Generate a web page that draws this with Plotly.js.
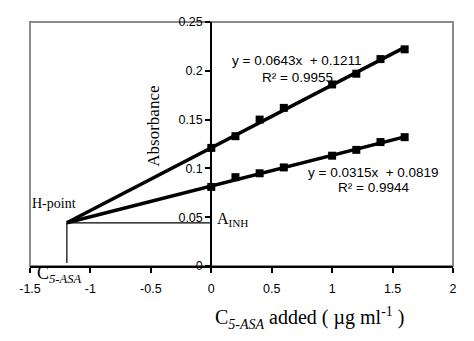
<!DOCTYPE html>
<html>
<head>
<meta charset="utf-8">
<script src="https://cdn.plot.ly/plotly-3.0.1.min.js"></script>
<style>html,body{margin:0;padding:0;background:#fff;}#chart{width:474px;height:341px;}</style>
</head>
<body>
<div id="chart"></div>
<script>
// Standard additions of 5-ASA: concentration added (µg/ml) vs absorbance
const added = [0, 0.2, 0.4, 0.6, 1.0, 1.2, 1.4, 1.6];
const absUpper = [0.121, 0.133, 0.150, 0.162, 0.186, 0.197, 0.212, 0.222];
const absLower = [0.081, 0.091, 0.095, 0.101, 0.113, 0.119, 0.127, 0.132];

// Linear fits printed on the chart
const slopes = [0.0643, 0.0315];
const intercepts = [0.1211, 0.0819];
const r2 = ['0.9955', '0.9944'];

// H-point: intersection of the two fitted lines
const hX = (intercepts[1] - intercepts[0]) / (slopes[0] - slopes[1]);
const hY = slopes[1] * hX + intercepts[1];
const xEnd = added[added.length - 1];

const serif = 'Liberation Serif, Times New Roman, serif';
const sans = 'Liberation Sans, Arial, sans-serif';

const fitLine = (i) => ({
  x: [hX, xEnd],
  y: [slopes[i] * hX + intercepts[i], slopes[i] * xEnd + intercepts[i]],
  mode: 'lines', line: {color: '#000', width: 3.5}, hoverinfo: 'skip'
});
const pts = (ys) => ({
  x: added, y: ys, mode: 'markers',
  marker: {symbol: 'square', size: 8, color: '#000'}
});

const traces = [
  fitLine(0), fitLine(1),
  pts(absUpper), pts(absLower),
  {x: [hX, 0], y: [hY, hY], mode: 'lines', line: {color: '#000', width: 1.2}},
  {x: [hX, hX], y: [hY, 0.003], mode: 'lines', line: {color: '#000', width: 1.2}}
];

const fmt = (i) => 'y = ' + slopes[i].toFixed(4) + 'x  + ' + intercepts[i].toFixed(4);

const layout = {
  width: 474, height: 341,
  margin: {l: 30, r: 21, t: 22, b: 75},
  paper_bgcolor: '#fff', plot_bgcolor: '#fff',
  showlegend: false,
  xaxis: {
    range: [-1.5, 2], dtick: 0.5, showgrid: false, zeroline: false,
    showline: true, linecolor: '#000', linewidth: 2,
    ticks: 'outside', ticklen: 5, tickwidth: 2, tickcolor: '#000',
    ticklabelstandoff: 5,
    tickfont: {family: sans, size: 12.5, color: '#000'},
    tickvals: [-1.5, -1, -0.5, 0, 0.5, 1, 1.5, 2],
    ticktext: ['-1.5', '-1', '-0.5', '0', '0.5', '1', '1.5', '2'],
    fixedrange: true
  },
  yaxis: {
    range: [0, 0.25], dtick: 0.05, showgrid: false, zeroline: false,
    anchor: 'free', position: 1.5 / 3.5, side: 'left',
    showline: true, linecolor: '#000', linewidth: 2,
    ticks: 'outside', ticklen: 5, tickwidth: 2, tickcolor: '#000',
    tickfont: {family: sans, size: 12.5, color: '#000'},
    tickvals: [0, 0.05, 0.1, 0.15, 0.2, 0.25],
    ticktext: ['0', '0.05', '0.1', '0.15', '0.2', '0.25'],
    fixedrange: true
  },
  shapes: [
    {type: 'rect', xref: 'paper', yref: 'paper', x0: 0, x1: 1, y0: 0, y1: 1,
     line: {color: '#8a8a8a', width: 2}, layer: 'below'}
  ],
  annotations: [
    {x: -0.48, y: 0.143, xref: 'x', yref: 'y', text: 'Absorbance', textangle: -90,
     showarrow: false, font: {family: serif, size: 17, color: '#000'}},
    {x: 0.71, y: 0.211, xref: 'x', yref: 'y', text: fmt(0), showarrow: false,
     font: {family: sans, size: 13.5, color: '#000'}},
    {x: 0.71, y: 0.1935, xref: 'x', yref: 'y', text: 'R² = ' + r2[0], showarrow: false,
     font: {family: sans, size: 13.5, color: '#000'}},
    {x: 1.34, y: 0.0955, xref: 'x', yref: 'y', text: fmt(1), showarrow: false,
     font: {family: sans, size: 13.5, color: '#000'}},
    {x: 1.34, y: 0.0800, xref: 'x', yref: 'y', text: 'R² = ' + r2[1], showarrow: false,
     font: {family: sans, size: 13.5, color: '#000'}},
    {x: -1.5, y: 0.064, xref: 'x', yref: 'y', xanchor: 'left', text: 'H-point',
     showarrow: false, font: {family: serif, size: 14, color: '#000'}},
    {x: 0.03, y: 0.048, xref: 'x', yref: 'y', xanchor: 'left', text: 'A<sub>INH</sub>',
     showarrow: false, font: {family: serif, size: 16, color: '#000'}},
    {x: -1.46, y: -0.033, xref: 'x', yref: 'paper', xanchor: 'left', yanchor: 'middle',
     text: 'C<sub><i>5-ASA</i></sub>',
     showarrow: false, font: {family: serif, size: 18, color: '#000'}},
    {x: 0.662, y: -0.215, xref: 'paper', yref: 'paper', xanchor: 'center', yanchor: 'middle',
     text: 'C<sub><i>5-ASA</i></sub> added ( µg ml<sup>-1</sup> )',
     showarrow: false, font: {family: serif, size: 20, color: '#000'}}
  ]
};

Plotly.newPlot('chart', traces, layout, {displayModeBar: false, staticPlot: true});
</script>
</body>
</html>
